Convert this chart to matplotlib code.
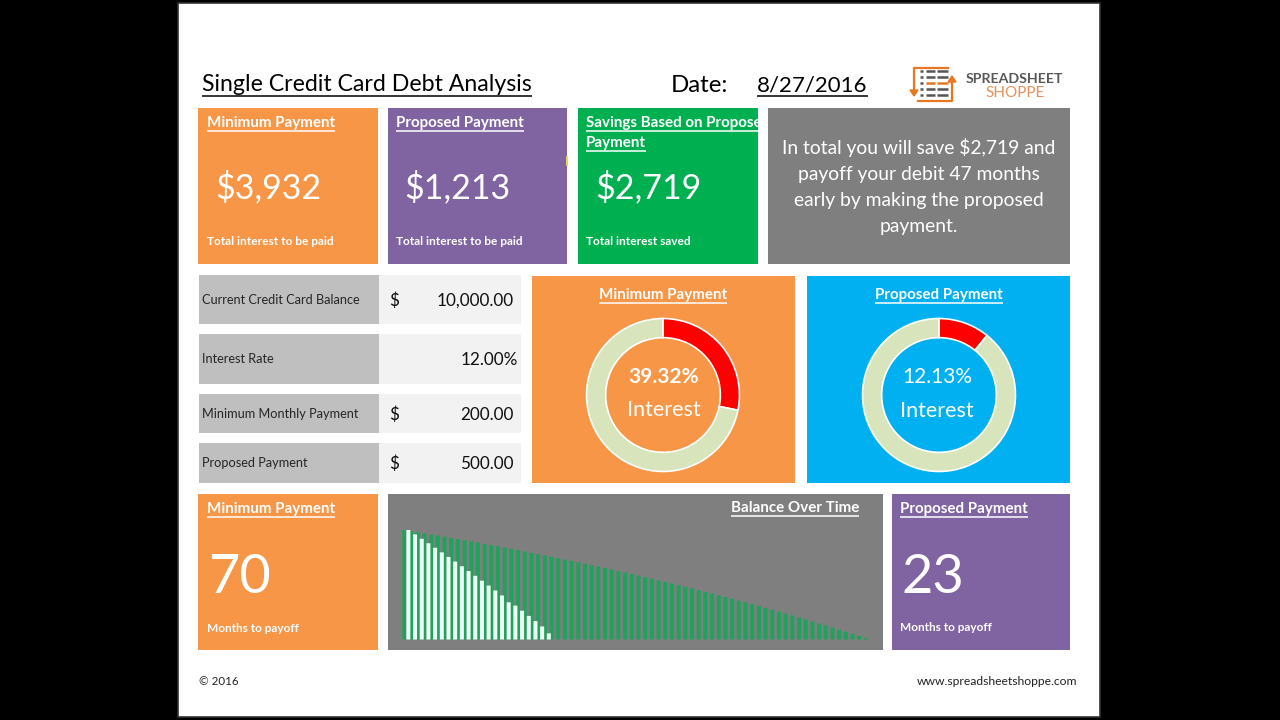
import matplotlib

matplotlib.use("Agg")
import matplotlib.pyplot as plt
from matplotlib.patches import Polygon, Rectangle

plt.rcParams["font.family"] = ["Lato", "DejaVu Sans"]

# Values
minimum_balance = [10000, 9900, 9799, 9697, 9594, 9490, 9385, 9279, 9172, 9064,
                   8955, 8844, 8733, 8620, 8506, 8391, 8275, 8158, 8040, 7920,
                   7799, 7677, 7554, 7429, 7304, 7177, 7048, 6919, 6788, 6656,
                   6522, 6387, 6251, 6114, 5975, 5835, 5693, 5550, 5405, 5259,
                   5112, 4963, 4813, 4661, 4507, 4352, 4196, 4038, 3878, 3717,
                   3554, 3390, 3224, 3056, 2886, 2715, 2542, 2368, 2191, 2013,
                   1833, 1652, 1468, 1283, 1096, 907, 716, 523, 328, 132]
proposed_balance = [10000, 9600, 9196, 8788, 8376, 7960, 7539, 7115, 6686, 6253,
                    5815, 5374, 4927, 4477, 4021, 3400, 3097, 2628, 2154, 1676,
                    1193, 560]
minimum_share = [28.2, 71.8]
proposed_share = [10.8, 89.2]

table_labels = ["Current Credit Card Balance", "Interest Rate",
                "Minimum Monthly Payment", "Proposed Payment"]
table_values = ["10,000.00", "12.00%", "200.00", "500.00"]
table_dollar = [True, False, True, True]

ORANGE = "#F79646"
PURPLE = "#8064A2"
GREEN = "#00B050"
GRAY = "#7F7F7F"
BLUE = "#00B0F0"
WHITE = "#FFFFFF"

fig = plt.figure(figsize=(12.8, 7.2), dpi=100, facecolor="black")
ax = fig.add_axes([0, 0, 1, 1])
ax.set_xlim(0, 1280)
ax.set_ylim(720, 0)
ax.axis("off")


def panel(x0, y0, x1, y1, color):
    p = Rectangle((x0, y0), x1 - x0, y1 - y0, facecolor=color, edgecolor="none")
    ax.add_patch(p)
    return p


def label(x, y, s, size, color=WHITE, weight="normal", ha="left", underline=False, clip=None):
    t = ax.text(x, y, s, fontsize=size, color=color, fontweight=weight, ha=ha, va="baseline")
    if clip is not None:
        t.set_clip_path(clip)
        t.set_clip_on(True)
    if underline:
        box = t.get_window_extent(fig.canvas.get_renderer())
        x1 = box.x1 if clip is None else min(box.x1, clip.get_x() + clip.get_width())
        ax.plot([box.x0, x1], [y + underline, y + underline], color=color, lw=1.1,
                solid_capstyle="butt")
    return t


# Page frame
ax.add_patch(Rectangle((178, 3), 922, 714, facecolor=WHITE, edgecolor="#333333", lw=1.2))

# Header
label(202, 91, "Single Credit Card Debt Analysis", 16.7, "black", underline=4.5)
label(671, 92, "Date:", 17.3, "black")
label(757, 92, "8/27/2016", 16, "black", underline=4)

# Logo
for yy in [71, 77, 83, 89, 95]:
    ax.plot([920, 923], [yy, yy], color="#555555", lw=1.8, solid_capstyle="butt")
    ax.plot([926, 935], [yy, yy], color="#E87722" if yy == 83 else "#555555", lw=1.8,
            solid_capstyle="butt")
    ax.plot([937, 948], [yy, yy], color="#E87722" if yy == 83 else "#555555", lw=1.8,
            solid_capstyle="butt")
ax.plot([914, 914, 948], [90, 68, 68], color="#E87722", lw=1.6)
ax.plot([918, 952, 952], [101, 101, 82], color="#E87722", lw=1.6)
ax.add_patch(Polygon([(910, 90), (918, 90), (914, 96)], color="#E87722"))
ax.add_patch(Polygon([(948, 82), (956, 82), (952, 76)], color="#E87722"))
label(966, 83, "SPREADSHEET", 10.2, "#595959", "bold")
label(985, 97, "SHOPPE", 11, "#E8915A")

# Top row
panel(198, 108, 378, 264, ORANGE)
panel(388, 108, 567, 264, PURPLE)
green_panel = panel(578, 108, 758, 264, GREEN)
panel(768, 108, 1070, 264, GRAY)
panel(566, 156, 568, 166, "#E8D44D")

label(207, 127, "Minimum Payment", 10.9, weight="bold", underline=4)
label(215, 198, "$3,932", 24.5)
label(207, 245, "Total interest to be paid", 8.6, weight="bold")

label(396, 127, "Proposed Payment", 10.9, weight="bold", underline=4)
label(404, 198, "$1,213", 24.5)
label(396, 245, "Total interest to be paid", 8.6, weight="bold")

label(586, 127, "Savings Based on Proposed", 10.9, weight="bold", underline=4, clip=green_panel)
label(586, 147, "Payment", 10.9, weight="bold", underline=4)
label(595, 198, "$2,719", 24.5)
label(586, 245, "Total interest saved", 8.6, weight="bold")

summary = ["In total you will save $2,719 and", "payoff your debit 47 months",
           "early by making the proposed", "payment."]
for i, line in enumerate(summary):
    label(919, 154 + i * 26, line, 13.9, ha="center")

# Input table
row_tops = [275, 334, 394, 443]
row_bottoms = [324, 384, 433, 483]
for i in range(4):
    panel(199, row_tops[i], 379, row_bottoms[i], "#BFBFBF")
    panel(379, row_tops[i], 521, row_bottoms[i], "#F2F2F2")
    base = (row_tops[i] + row_bottoms[i]) / 2
    label(202, base + 4, table_labels[i], 9.2, "#262626")
    label(514 if table_dollar[i] else 518, base + 6, table_values[i], 12.3, "#111111", ha="right")
    if table_dollar[i]:
        label(389, base + 6, "$", 12.3, "#111111")

# Donut panels
panel(532, 276, 795, 483, ORANGE)
panel(807, 276, 1070, 483, BLUE)
label(663, 299, "Minimum Payment", 10.9, weight="bold", ha="center", underline=4)
label(939, 299, "Proposed Payment", 10.9, weight="bold", ha="center", underline=4)


def donut(cx, cy, share):
    r = 78
    dax = fig.add_axes([(cx - r) / 1280, 1 - (cy + r) / 720, 2 * r / 1280, 2 * r / 720])
    dax.pie(share, colors=["#FF0000", "#D8E4BC"], startangle=90, counterclock=False, radius=1,
            wedgeprops={"width": 0.25, "edgecolor": WHITE, "linewidth": 1.2})
    dax.set_xlim(-1.02, 1.02)
    dax.set_ylim(-1.02, 1.02)
    dax.patch.set_alpha(0)
    return dax


donut(663, 395, minimum_share)
donut(939, 395, proposed_share)
label(664, 383, "39.32%", 15, weight="bold", ha="center")
label(664, 416, "Interest", 15.5, ha="center")
label(937, 383, "12.13%", 15, ha="center")
label(937, 417, "Interest", 15.5, ha="center")

# Bottom row
panel(198, 494, 378, 650, ORANGE)
panel(388, 494, 883, 650, GRAY)
panel(892, 494, 1070, 650, PURPLE)

label(207, 513, "Minimum Payment", 10.9, weight="bold", underline=4)
label(208, 593, "70", 39)
label(207, 632, "Months to payoff", 8.5, weight="bold")

label(731, 512, "Balance Over Time", 10.9, weight="bold", underline=4)

label(900, 513, "Proposed Payment", 10.9, weight="bold", underline=4)
label(902, 593, "23", 39)
label(900, 631, "Months to payoff", 8.5, weight="bold")

# Balance chart, snapping off so the thin bars keep their real width
bar_ax = fig.add_axes([402 / 1280, 1 - 639.5 / 720, 469.6 / 1280, 109.5 / 720])
bar_ax.patch.set_alpha(0)
green_bars = bar_ax.bar(range(len(minimum_balance)), minimum_balance, width=0.6, color="#1FA35C")
white_bars = bar_ax.bar([i + 0.6 for i in range(len(proposed_balance))], proposed_balance,
                        width=0.6, color="#EEFFF5")
for bar in list(green_bars) + list(white_bars):
    bar.set_snap(False)
bar_ax.set_xlim(-0.35, 69.85)
bar_ax.set_ylim(0, 10000)
bar_ax.axis("off")

# Footer
label(199, 685, "© 2016", 8.3, "#222222")
label(1077, 685, "www.spreadsheetshoppe.com", 8.7, "#222222", ha="right")

fig.savefig("out.png", dpi=100, facecolor=fig.get_facecolor())
